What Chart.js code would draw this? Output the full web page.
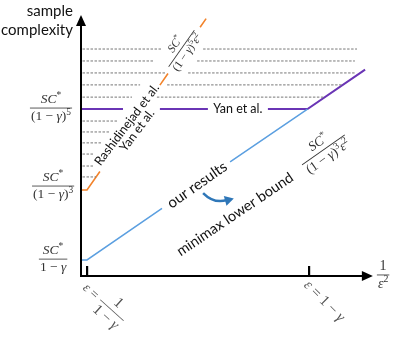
<!DOCTYPE html>
<html>
<head>
<meta charset="utf-8">
<script src="https://cdn.jsdelivr.net/npm/chart.js@4"></script>
<style>
  html, body { margin: 0; padding: 0; background: #fff; }
  #wrap { width: 399px; height: 344px; }
</style>
</head>
<body>
<div id="wrap"><canvas id="chart" width="399" height="344"></canvas></div>
<script>
// schematic units: x ~ 1/eps^2 (0..10), y ~ sample complexity (0..10)
// a null in a y list breaks the line (room for a label)

// our results (blue)
const oursX = [0, 0.2, 2.7, 2.7, 4.97, 7.55];
const oursY = [0.62, 0.62, 2.6, null, 4.39, 6.42];

// Yan et al. (purple)
const yanX = [0, 1.4, 1.4, 2.63, 4.23, 4.23, 6.23, 7.55, 9.47];
const yanY = [6.42, 6.42, null, 6.42, 6.42, null, 6.42, 6.42, 7.94];

// Rashidinejad et al. (orange)
const rashX = [0, 0.2, 0.63, 0.63, 2.63, 2.9, 2.9, 3.97, 4.17];
const rashY = [3.31, 3.31, 4.02, null, 7.34, 7.79, null, 9.57, 9.9];

// grey dashed levels, left piece and (for the top ones) right piece
const dashY = [8.73, 8.27, 7.81, 7.35, 6.88, 5.96, 5.54, 5.12, 4.69, 4.23, 3.81];
const dashLeftEnd = [2.7, 2.4, 2.8, 1.97, 1.7, 1.2, 0.97, 0.7, 0.4, 0.43, 0.5];
const dashRightStart = [4.07, 3.87, 3.57, 2.87, 2.53];
const dashRightEnd = [9.2, 9.13, 9.13, 8.73, 8.13];

// x ticks
const tickX = [0.2, 7.6];

function zip(xs, ys) {
  return xs.map((x, i) => ({ x: x, y: ys[i] }));
}

const dashPts = [];
dashY.forEach((y, i) => {
  dashPts.push({ x: 0.05, y: y }, { x: dashLeftEnd[i], y: y }, { x: dashLeftEnd[i], y: null });
  if (i < dashRightStart.length) {
    dashPts.push({ x: dashRightStart[i], y: y }, { x: dashRightEnd[i], y: y }, { x: dashRightEnd[i], y: null });
  }
});

const serif = '"Liberation Serif", "DejaVu Serif", serif';
const sans = 'Lato, "Open Sans", sans-serif';

function fontFor(st, size) {
  const it = st.indexOf('i') >= 0 ? 'italic ' : '';
  const sz = st.indexOf('s') >= 0 ? size * 0.7 : size;
  return it + sz + 'px ' + serif;
}
function runsWidth(ctx, runs, size) {
  let w = 0;
  runs.forEach(r => { ctx.font = fontFor(r[1], size); w += ctx.measureText(r[0]).width; });
  return w;
}
function drawRuns(ctx, runs, x, y, size) {
  runs.forEach(r => {
    ctx.font = fontFor(r[1], size);
    const dy = r[1].indexOf('s') >= 0 ? -size * 0.38 : 0;
    ctx.fillText(r[0], x, y + dy);
    x += ctx.measureText(r[0]).width;
  });
  return x;
}
// fraction with its bar centred on (x, y)
function drawFrac(ctx, num, den, x, y, size) {
  const wn = runsWidth(ctx, num, size), wd = runsWidth(ctx, den, size);
  const w = Math.max(wn, wd) + 2;
  ctx.fillRect(x - w / 2, y - 0.4, w, 0.8);
  drawRuns(ctx, num, x - wn / 2, y - size * 0.38, size);
  drawRuns(ctx, den, x - wd / 2, y + size * 0.9, size);
  return w;
}

const SC = [['SC', 'i'], ['*', 's']];
const den5 = [['(1 \u2212 ', 'r'], ['\u03b3', 'i'], [')', 'r'], ['5', 's']];
const den3 = [['(1 \u2212 ', 'r'], ['\u03b3', 'i'], [')', 'r'], ['3', 's']];
const den1 = [['1 \u2212 ', 'r'], ['\u03b3', 'i']];
const den5e = [['(1 \u2212 ', 'r'], ['\u03b3', 'i'], [')', 'r'], ['5', 's'], ['\u03b5', 'i'], ['2', 's']];
const den3e = [['(1 \u2212 ', 'r'], ['\u03b3', 'i'], [')', 'r'], ['3', 's'], ['\u03b5', 'i'], ['2', 's']];

const textLabels = [
  { t: 'Rashidinejad et al.', u: 1.53, v: 5.82, deg: -53, size: 12.5 },
  { t: 'Yan et al.', u: 1.87, v: 5.6, deg: -53, size: 12.5 },
  { t: 'our results', u: 3.87, v: 3.5, deg: -35, size: 15 },
  { t: 'minimax lower bound', u: 5.13, v: 2.37, deg: -34, size: 14.5 },
  { t: 'Yan et al.', u: 5.23, v: 6.42, deg: 0, size: 12.5 }
];

const sketch = {
  id: 'sketch',
  afterDatasetsDraw(chart) {
    const ctx = chart.ctx;
    const px = u => chart.scales.x.getPixelForValue(u);
    const py = v => chart.scales.y.getPixelForValue(v);
    const x0 = px(0), y0 = py(0);
    ctx.save();

    // axes with arrow heads
    ctx.fillStyle = '#000';
    ctx.strokeStyle = '#000';
    ctx.lineWidth = 2;
    ctx.beginPath();
    ctx.moveTo(x0, y0 + 1);
    ctx.lineTo(x0, py(9.7));
    ctx.moveTo(x0 - 1, y0);
    ctx.lineTo(px(9.45), y0);
    ctx.stroke();
    ctx.beginPath();
    ctx.moveTo(x0, py(10.04));
    ctx.lineTo(x0 - 5, py(10.04) + 11);
    ctx.lineTo(x0 + 5, py(10.04) + 11);
    ctx.closePath();
    ctx.fill();
    ctx.beginPath();
    ctx.moveTo(px(9.73), y0);
    ctx.lineTo(px(9.73) - 11, y0 - 5);
    ctx.lineTo(px(9.73) - 11, y0 + 5);
    ctx.closePath();
    ctx.fill();
    tickX.forEach(t => ctx.fillRect(Math.round(px(t)) - 1, y0 - 10, 2.2, 10));

    // axis titles
    ctx.fillStyle = '#111';
    ctx.font = '15px ' + sans;
    ctx.textAlign = 'right';
    ctx.textBaseline = 'middle';
    ctx.fillText('sample', px(-0.27), py(10.19));
    ctx.fillText('complexity', px(-0.27), py(9.46));
    ctx.textAlign = 'left';
    ctx.textBaseline = 'alphabetic';
    ctx.fillStyle = '#333';
    drawFrac(ctx, [['1', 'r']], [['\u03b5', 'i'], ['2', 's']], px(10.07), py(0.04), 14);

    // level labels on the y axis
    drawFrac(ctx, SC, den5, px(-1), py(6.46), 13.5);
    drawFrac(ctx, SC, den3, px(-0.93), py(3.46), 13.5);
    drawFrac(ctx, SC, den1, px(-0.93), py(0.65), 13.5);

    // tick labels, tilted downwards
    ctx.fillStyle = '#555';
    ctx.save();
    ctx.translate(px(0.13), py(-0.38));
    ctx.rotate(42 * Math.PI / 180);
    let xe = drawRuns(ctx, [['\u03b5', 'i'], [' = ', 'r']], 0, 4, 13.5);
    const wf = runsWidth(ctx, den1, 15) + 4;
    drawFrac(ctx, [['1', 'r']], den1, xe + wf / 2, 0, 15);
    ctx.restore();
    ctx.save();
    ctx.translate(px(7.5), py(-0.27));
    ctx.rotate(45 * Math.PI / 180);
    drawRuns(ctx, [['\u03b5', 'i'], [' = 1 \u2212 ', 'r'], ['\u03b3', 'i']], 0, 4, 15);
    ctx.restore();

    // slanted fractions
    ctx.fillStyle = '#333';
    ctx.save();
    ctx.translate(px(3.35), py(8.75));
    ctx.rotate(-55 * Math.PI / 180);
    drawFrac(ctx, SC, den5e, 0, 0, 11.5);
    ctx.restore();
    ctx.save();
    ctx.translate(px(8.08), py(4.85));
    ctx.rotate(-35 * Math.PI / 180);
    drawFrac(ctx, SC, den3e, 0, 0, 13.5);
    ctx.restore();

    // plain text labels
    ctx.fillStyle = '#111';
    ctx.textAlign = 'center';
    ctx.textBaseline = 'middle';
    textLabels.forEach(l => {
      ctx.save();
      ctx.translate(px(l.u), py(l.v));
      ctx.rotate(l.deg * Math.PI / 180);
      ctx.font = l.size + 'px ' + sans;
      ctx.fillText(l.t, 0, 0);
      ctx.restore();
    });

    // curved arrow from our results to the lower bound
    const a = [px(4.07), py(3.19)], c = [px(4.43), py(2.77)], b = [px(5.03), py(2.96)];
    ctx.strokeStyle = '#2f77b8';
    ctx.fillStyle = '#2f77b8';
    ctx.lineWidth = 2.5;
    ctx.beginPath();
    ctx.moveTo(a[0], a[1]);
    ctx.quadraticCurveTo(c[0], c[1], b[0] - 5, b[1] + 1);
    ctx.stroke();
    const ang = Math.atan2(b[1] - c[1], b[0] - c[0]);
    ctx.save();
    ctx.translate(b[0], b[1]);
    ctx.rotate(ang);
    ctx.beginPath();
    ctx.moveTo(2, 0);
    ctx.lineTo(-7, -5);
    ctx.lineTo(-7, 5);
    ctx.closePath();
    ctx.fill();
    ctx.restore();

    ctx.restore();
  }
};

function lineSet(data, color, width, dash) {
  return {
    data: data,
    showLine: true,
    borderColor: color,
    borderWidth: width,
    borderDash: dash || [],
    pointRadius: 0,
    spanGaps: false,
    clip: false,
    tension: 0
  };
}

new Chart(document.getElementById('chart'), {
  type: 'scatter',
  data: {
    datasets: [
      lineSet(dashPts, '#777', 1, [2.5, 1.5]),
      lineSet(zip(oursX, oursY), '#5b9fe0', 1.5),
      lineSet(zip(yanX, yanY), '#6a35b5', 2),
      lineSet(zip(rashX, rashY), '#f2832b', 1.6)
    ]
  },
  options: {
    responsive: false,
    animation: false,
    devicePixelRatio: 1,
    layout: { padding: { left: 81, right: 18, top: 16, bottom: 68 } },
    scales: {
      x: { type: 'linear', min: 0, max: 10, display: false },
      y: { type: 'linear', min: 0, max: 10, display: false }
    },
    plugins: {
      legend: { display: false },
      tooltip: { enabled: false }
    }
  },
  plugins: [sketch]
});
</script>
</body>
</html>
